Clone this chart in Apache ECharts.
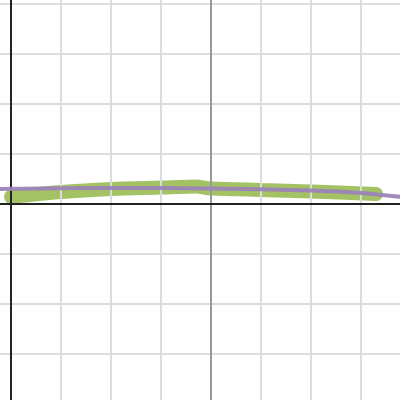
<!doctype html>
<html>
<head>
<meta charset="utf-8">
<script src="https://cdn.jsdelivr.net/npm/echarts@6/dist/echarts.min.js"></script>
<style>html,body{margin:0;padding:0;background:#fff}#c{width:400px;height:400px}</style>
</head>
<body>
<div id="c"></div>
<script>
let greenX = [0, 1, 2, 3, 3.7, 4, 5, 6, 7.3];
let greenY = [0.14, 0.24, 0.30, 0.33, 0.35, 0.31, 0.28, 0.25, 0.20];
let purpleX = [-0.3, 2, 4, 6, 7, 7.9];
let purpleY = [0.30, 0.32, 0.31, 0.27, 0.22, 0.13];
let gridX = [1, 2, 3, 5, 6, 7];
let gridY = [-3, -2, -1, 1, 2, 3, 4];

let chart = echarts.init(document.getElementById('c'));
let gridLines = gridX.map(v => ({ xAxis: v })).concat(gridY.map(v => ({ yAxis: v })));
chart.setOption({
    animation: false,
    grid: { left: 0, right: 0, top: 0, bottom: 0 },
    xAxis: {
        type: 'value', min: -0.22, max: 7.78,
        axisLabel: { show: false }, axisTick: { show: false },
        axisLine: { show: false }, splitLine: { show: false }
    },
    yAxis: {
        type: 'value', min: -3.92, max: 4.08,
        axisLabel: { show: false }, axisTick: { show: false },
        axisLine: { show: false }, splitLine: { show: false }
    },
    series: [
        {
            type: 'line', data: [], z: 1,
            markLine: {
                silent: true, symbol: 'none', label: { show: false },
                lineStyle: { color: '#dcdcdc', width: 2, type: 'solid' },
                data: gridLines
            }
        },
        {
            type: 'line', data: [], z: 2,
            markLine: {
                silent: true, symbol: 'none', label: { show: false },
                lineStyle: { color: '#999', width: 2, type: 'solid' },
                data: [{ xAxis: 4 }]
            }
        },
        {
            type: 'line', data: [], z: 3,
            markLine: {
                silent: true, symbol: 'none', label: { show: false },
                lineStyle: { color: '#222', width: 2, type: 'solid' },
                data: [{ xAxis: 0 }, { yAxis: 0 }]
            }
        },
        {
            type: 'line', data: greenX.map((x, i) => [x, greenY[i]]), z: 4,
            showSymbol: false, smooth: 0.3,
            lineStyle: { color: '#9dbf5c', width: 14, cap: 'round', opacity: 0.95 }
        },
        {
            type: 'line', data: purpleX.map((x, i) => [x, purpleY[i]]), z: 5,
            showSymbol: false, smooth: 0.3,
            lineStyle: { color: '#9c84b8', width: 4, opacity: 0.95 }
        }
    ]
});
</script>
</body>
</html>
